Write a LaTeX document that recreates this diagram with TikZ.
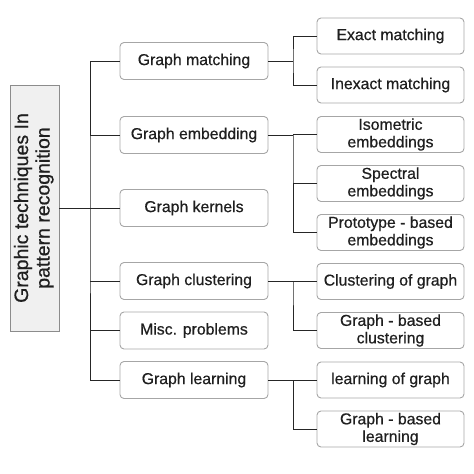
\documentclass[tikz,border=0pt]{standalone}
\usepackage{fontspec}
\setmainfont{Liberation Sans}[FakeBold=0.6]
\begin{document}
\begin{tikzpicture}[x=1pt,y=-1pt,
  box/.style={draw=black!35, rounded corners=4pt, line width=0.9pt, minimum width=148pt, minimum height=37pt, inner sep=1pt, align=center, font=\fontsize{15.8}{17.5}\selectfont, text=black!88},
  rootbox/.style={draw=black!45, fill=black!6, line width=0.9pt, minimum width=49pt, minimum height=246pt, inner sep=1pt, align=center, font=\fontsize{19.5}{21.5}\selectfont, text=black!88},
  conn/.style={draw=black!85, line width=1pt}]
\useasboundingbox (0,0) rectangle (474,474);
\node[rootbox] (root) at (34.5,208) {\rotatebox{90}{\begin{tabular}{@{}c@{}}Graphic techniques In\\pattern recognition\end{tabular}}};
\node[box] (gm) at (194,61) {Graph matching};
\node[box] (ge) at (194,135) {Graph embedding};
\node[box] (gk) at (194,208) {Graph kernels};
\node[box] (gc) at (194,281) {Graph clustering};
\node[box] (mp) at (194,330.5) {Misc. problems};
\node[box] (gl) at (194,380) {Graph learning};
\node[box, minimum width=147pt, minimum height=36pt] (em) at (390.5,36) {Exact matching};
\node[box, minimum width=147pt, minimum height=36pt] (im) at (390.5,85) {Inexact matching};
\node[box, minimum width=147pt, minimum height=36pt] (ie) at (390.5,134.5) {Isometric\\embeddings};
\node[box, minimum width=147pt, minimum height=36pt] (se) at (390.5,183.5) {Spectral\\embeddings};
\node[box, minimum width=147pt, minimum height=36pt] (pe) at (390.5,232.5) {Prototype - based\\embeddings};
\node[box, minimum width=147pt, minimum height=36pt] (cg) at (390.5,281.5) {Clustering of graph};
\node[box, minimum width=147pt, minimum height=36pt] (gbc) at (390.5,330.5) {Graph - based\\clustering};
\node[box, minimum width=147pt, minimum height=36pt] (lg) at (390.5,380) {learning of graph};
\node[box, minimum width=147pt, minimum height=36pt] (gbl) at (390.5,429) {Graph - based\\learning};
\coordinate (trunk) at (90,208);
\draw[conn] (root.east) -- (trunk);
\draw[conn] (gm.west) -| (trunk) |- (gl.west);
\foreach \n in {ge,gk,gc,mp} \draw[conn] (\n.west) -- (trunk |- \n.west);
\coordinate (b1) at (293,61);
\coordinate (b2) at (293,135);
\coordinate (b3) at (293,281);
\coordinate (b4) at (293,380);
\draw[conn] (gm.east) -- (b1);
\draw[conn] (em.west) -| (b1) |- (im.west);
\draw[conn] (ge.east) -- (b2);
\draw[conn] (ie.west) -| (b2) |- (pe.west);
\draw[conn] (se.west) -- (b2 |- se.west);
\draw[conn] (gc.east) -- (b3);
\draw[conn] (cg.west) -| (b3) |- (gbc.west);
\draw[conn] (gl.east) -- (b4);
\draw[conn] (lg.west) -| (b4) |- (gbl.west);
\end{tikzpicture}
\end{document}
